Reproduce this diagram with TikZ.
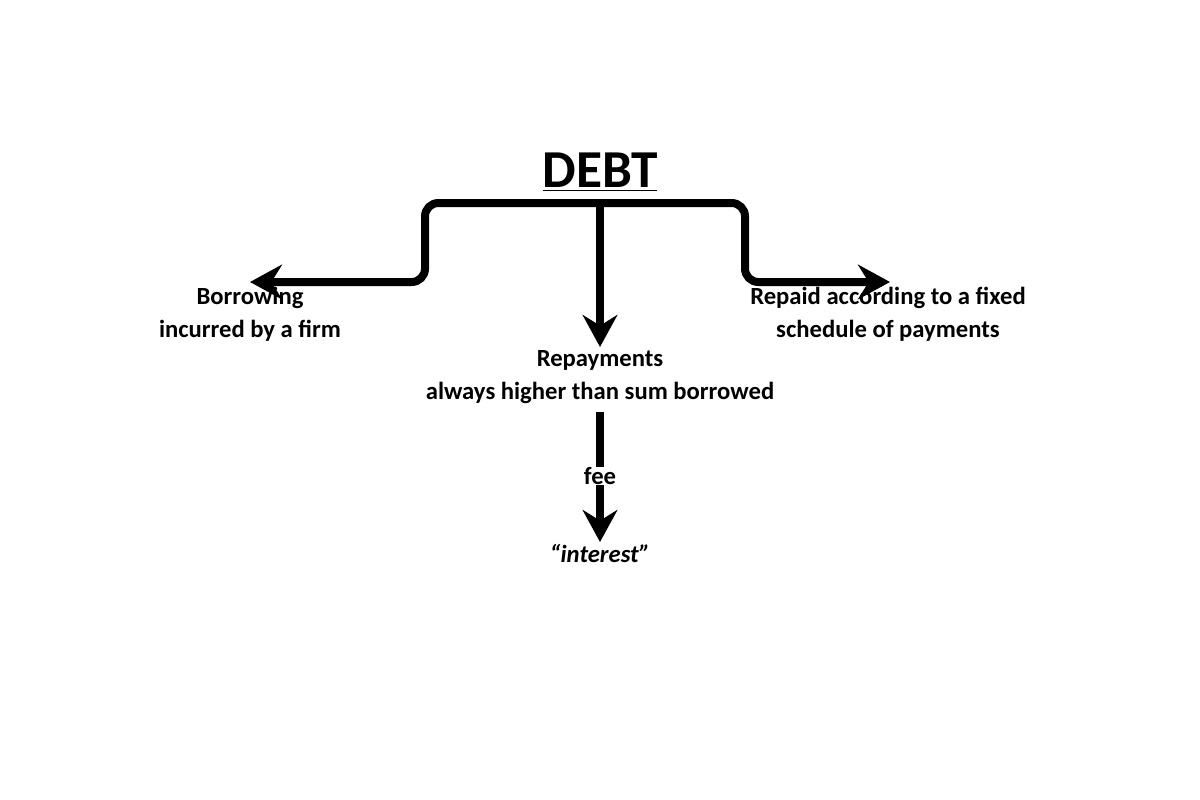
\documentclass[tikz,border=0pt]{standalone}
\usepackage{fontspec}
\setmainfont{Carlito}
\usetikzlibrary{arrows.meta}
\begin{document}
\begin{tikzpicture}[x=0.75pt,y=-0.75pt,
  lbl/.style={font=\fontsize{18.5}{25}\selectfont\bfseries,align=center,inner sep=0pt},
  conn/.style={line width=6pt,-{Stealth[length=24pt,width=26pt,inset=8pt]},rounded corners=10pt}]
\useasboundingbox (0,0) rectangle (1200,800);
\node[inner sep=0pt,font=\fontsize{40}{44}\selectfont\bfseries] (debt) at (600,172) {\underline{DEBT}};
\coordinate (top) at (600,203);
\node[lbl] (bor) at (250,314) {Borrowing\\incurred by a firm};
\node[lbl] (rep) at (888,314) {Repaid according to a fixed\\schedule of payments};
\node[lbl] (pay) at (600,377) {Repayments\\always higher than sum borrowed};
\node[lbl] (fee) at (600,476) {fee};
\node[lbl,font=\fontsize{18.5}{25}\selectfont\bfseries\itshape] (int) at (600,553) {``interest''};
\draw[conn] (top) -- (425,203) -- (425,282) -- (250,282);
\draw[conn] (top) -- (745,203) -- (745,282) -- (890,282);
\draw[conn] (top) -- (600,347);
\draw[line width=6pt] (600,412) -- (fee.north);
\draw[conn] (fee.south) -- (600,542);
\end{tikzpicture}
\end{document}
